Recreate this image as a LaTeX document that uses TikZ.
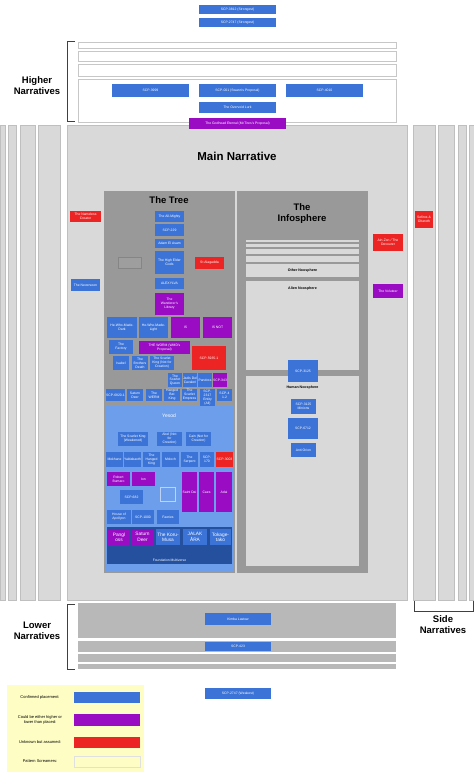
\documentclass[tikz,border=0pt]{standalone}
\usepackage{fontspec}
\setmainfont{Liberation Sans}
\usepackage{xcolor}
\definecolor{confblue}{HTML}{3B73D6}
\definecolor{eitherpurple}{HTML}{9A0CC4}
\definecolor{assumedred}{HTML}{EC2424}
\definecolor{paleyellow}{HTML}{FDFDC4}
\definecolor{yesodblue}{HTML}{6D9EEB}
\definecolor{multiblue}{HTML}{24509E}
\newcommand{\corA}{confblue}
\newcommand{\corB}{eitherpurple}
\newcommand{\corC}{assumedred}
\newcommand{\corD}{paleyellow}
\newcommand{\corE}{black!15}
\newcommand{\corF}{black!40}
\newcommand{\corG}{black!28}
\newcommand{\corH}{yesodblue}
\newcommand{\corI}{multiblue}
\newcommand{\bx}[7]{\node[#1, minimum width={(#5-#3)*1pt}, minimum height={(#6-#4)*1pt}] (#2) at ({(#3+#5)/2},{(#4+#6)/2}) {#7};}
\tikzset{
  box/.style={inner sep=0pt, outer sep=0pt, align=center, text=white, font=\fontsize{3.4}{3.9}\selectfont},
  conf/.style={box, fill=\corA},
  either/.style={box, fill=\corB},
  assumed/.style={box, fill=\corC},
  band/.style={inner sep=0pt, outer sep=0pt, fill=\corE, draw=black!25, line width=0.6pt},
  hollow/.style={inner sep=0pt, outer sep=0pt, fill=white, draw=black!22, line width=0.7pt},
  lowband/.style={inner sep=0pt, outer sep=0pt, fill=\corG},
  heading/.style={align=center, font=\bfseries\fontsize{9.5}{11}\selectfont},
  subhead/.style={align=center, font=\bfseries\fontsize{3.6}{4}\selectfont},
  bracket/.style={draw=black!75, line width=0.8pt},
  legtext/.style={align=center, font=\fontsize{4}{4.6}\selectfont}
}
\begin{document}
\begin{tikzpicture}[x=1pt, y=-1pt]
  \useasboundingbox[fill=white] (0,0) rectangle (474,782);

  % strongest
  \bx{conf}{strongA}{199}{5}{276}{14}{SCP-3812 (Strongest)}
  \bx{conf}{strongB}{199}{18}{276}{27}{SCP-2747 (Strongest)}

  % higher narratives
  \bx{hollow}{hrowA}{78}{42}{396}{48}{}
  \bx{hollow}{hrowB}{78}{51}{396}{61}{}
  \bx{hollow}{hrowC}{78}{64}{396}{76}{}
  \bx{hollow}{hrowD}{78}{79}{396}{122}{}
  \bx{conf}{scpA}{112}{84}{189}{97}{SCP-3999}
  \bx{conf}{scpB}{199}{84}{276}{97}{SCP-001 (Swann's Proposal)}
  \bx{conf}{scpC}{286}{84}{363}{97}{SCP-4010}
  \bx{conf}{lurk}{199}{102}{276}{113}{The Overvoid Lurk}
  \draw[bracket] (75,41) -- (67,41) -- (67,121) -- (75,121);
  \node[heading] (higher) at (37,86) {Higher\\Narratives};

  % side columns
  \foreach \xa/\xb in {0/5, 8/16, 20/35, 38/60, 413/435, 438/454, 458/466, 469/476}
    \draw[band] (\xa,125) rectangle (\xb,600);

  % main narrative
  \bx{band}{mainbox}{67}{125}{407}{600}{}
  \bx{either}{godhead}{189}{118}{286}{129}{The Godhead Eternal (McTires's Proposal)}
  \node[heading, font=\bfseries\fontsize{11.5}{13}\selectfont] (maintitle) at (237,156) {Main Narrative};
  \bx{assumed}{nameless}{70}{211}{101}{222}{The Nameless\\Creator}
  \bx{conf}{neverseen}{71}{279}{100}{291}{The Neverseen}
  \bx{assumed}{ainzon}{373}{234}{403}{251}{Ain-Zon / The\\Devourer}
  \bx{either}{volu}{373}{284}{403}{298}{The Voluteer}
  \bx{assumed}{sefiros}{415}{211}{433}{228}{Sefiros \&\\Oltaroth}

  % the tree
  \bx{box, fill=\corF}{tree}{104}{191}{235}{573}{}
  \node[heading] (treetitle) at (169,200) {The Tree};
  \bx{conf}{allmighty}{155}{211}{184}{222}{The All-Mighty}
  \bx{conf}{scp229}{155}{224}{184}{236}{SCP-229}
  \bx{conf}{adam}{155}{239}{184}{248}{Adam El Asam}
  \bx{conf}{elder}{155}{251}{184}{274}{The High Elder\\Gods}
  \bx{box, fill=black!38, draw=black!48, line width=0.6pt}{blank}{118}{257}{141}{268}{}
  \bx{assumed}{alagadda}{195}{257}{224}{269}{St Alagadda}
  \bx{conf}{alexylva}{155}{278}{184}{289}{ALEXYLVA}
  \bx{either}{library}{155}{293}{184}{315}{The\\Wanderer's\\Library}
  \bx{conf}{dark}{107}{317}{137}{338}{He-Who-Made-\\Dark}
  \bx{conf}{light}{139}{317}{168}{338}{He-Who-Made-\\Light}
  \bx{either}{is}{171}{317}{200}{338}{IS}
  \bx{either}{isnot}{203}{317}{232}{338}{IS NOT}
  \bx{conf}{factory}{109}{340}{133}{354}{The\\Factory}
  \bx{either}{worm}{139}{341}{190}{354}{THE WORM (WMD's\\Proposal)}
  \bx{assumed}{scp5935}{192}{346}{226}{370}{SCP-5935-1}
  \bx{conf}{isabel}{113}{356}{129}{370}{Isabel}
  \bx{conf}{brothers}{132}{356}{148}{370}{The\\Brothers\\Death}
  \bx{conf}{scarletA}{150}{356}{174}{370}{The Scarlet\\King (Not for\\Creation)}
  \bx{conf}{smallA}{168}{373}{182}{387}{The\\Scarlet\\Queen}
  \bx{conf}{smallB}{183}{373}{197}{387}{Jadis Del\\Cavaleri}
  \bx{conf}{smallC}{198}{373}{212}{387}{Pandora}
  \bx{either}{smallD}{213}{373}{227}{387}{SCP-343}
  \bx{conf}{rowA}{106}{389}{125}{401}{SCP-6820-1}
  \bx{conf}{rowB}{127}{389}{143}{401}{Saturn\\Deer}
  \bx{conf}{rowC}{146}{389}{162}{401}{The\\WERM}
  \bx{conf}{rowD}{164}{389}{180}{401}{Hanged\\Bat\\King}
  \bx{conf}{rowE}{182}{389}{197}{401}{The\\Scarlet\\Empress}
  \bx{conf}{rowF}{200}{389}{215}{407}{SCP-\\2317\\Entity\\(All)}
  \bx{conf}{rowG}{217}{389}{232}{401}{SCP-4\\1-2}

  % yesod
  \bx{box, fill=\corH}{yesod}{105}{406}{233}{571}{}
  \node[box, font=\fontsize{5}{6}\selectfont] (yesodtitle) at (169,416) {Yesod};
  \bx{conf}{scarletB}{118}{432}{148}{446}{The Scarlet King\\(Weakened)}
  \bx{conf}{abel}{157}{432}{182}{446}{Abel (Not\\for\\Creation)}
  \bx{conf}{cain}{186}{432}{211}{446}{Cain (Not for\\Creation)}
  \bx{conf}{mekhane}{106}{452}{123}{467}{Mekhane}
  \bx{conf}{yalda}{124}{452}{141}{467}{Yaldabaoth}
  \bx{conf}{hanged}{143}{452}{160}{467}{The\\Hanged\\King}
  \bx{conf}{moloch}{162}{452}{179}{467}{Moloch}
  \bx{conf}{serpent}{181}{452}{198}{467}{The\\Serpent}
  \bx{conf}{scp170}{200}{452}{214}{467}{SCP-\\170}
  \bx{assumed}{scpred}{216}{452}{233}{467}{SCP-3003}
  \bx{either}{bumaro}{107}{472}{130}{486}{Robert\\Bumaro}
  \bx{either}{ion}{132}{472}{155}{486}{Ion}
  \bx{either}{tallA}{182}{472}{197}{512}{Saint Dai}
  \bx{either}{tallB}{199}{472}{214}{512}{Caes}
  \bx{either}{tallC}{216}{472}{232}{512}{Adai}
  \bx{conf}{scp682}{120}{490}{143}{504}{SCP-682}
  \bx{box, draw=white!55!\corH, line width=0.5pt}{blankB}{160}{487}{175}{501}{}
  \bx{conf}{apollyon}{107}{510}{131}{524}{House of\\Apollyon}
  \bx{conf}{scp1000}{132}{510}{154}{524}{SCP-1000}
  \bx{conf}{faeries}{157}{510}{179}{524}{Faeries}

  % foundation multiverse
  \bx{box, fill=\corI}{multiverse}{107}{527}{232}{564}{}
  \node[box] (multititle) at (169.5,560) {Foundation Multiverse};
  \bx{either, font=\fontsize{4.8}{5.4}\selectfont}{pangloss}{108}{529}{130}{545}{Pangl\\oss}
  \bx{either, font=\fontsize{4.8}{5.4}\selectfont}{saturn}{132}{529}{153}{545}{Saturn\\Deer}
  \bx{conf, font=\fontsize{4.8}{5.4}\selectfont}{koru}{156}{529}{180}{545}{The Koru-\\Musa}
  \bx{conf, font=\fontsize{4.8}{5.4}\selectfont}{jalak}{183}{529}{207}{545}{JALAK\\ÅRA}
  \bx{conf, font=\fontsize{4.8}{5.4}\selectfont}{tokage}{210}{529}{231}{545}{Tokage-\\tako}

  % the infosphere
  \bx{box, fill=\corF}{info}{237}{191}{368}{573}{}
  \node[heading] (infotitle) at (302,214) {The\\Infosphere};
  \foreach \ya/\yb in {240/242, 244/247, 249/254, 256/262}
    \fill[\corE] (246,\ya) rectangle (359,\yb);
  \bx{box, fill=\corE}{othernoo}{246}{264}{359}{277}{}
  \node[subhead] at (othernoo) {Other Noosphere};
  \bx{box, fill=\corE}{aliennoo}{246}{281}{359}{370}{}
  \node[subhead] at (302.5,289) {Alien Noosphere};
  \bx{box, fill=\corE}{humannoo}{246}{376}{359}{566}{}
  \node[subhead] at (302.5,388) {Human Noosphere};
  \bx{conf}{scp3125}{288}{360}{318}{382}{SCP-3125}
  \bx{conf}{minions}{291}{399}{316}{414}{SCP-3125\\Minions}
  \bx{conf}{scp6712}{288}{418}{318}{439}{SCP-6712}
  \bx{conf}{orion}{291}{443}{316}{457}{Anti Orion}

  % lower narratives
  \bx{lowband}{lrowA}{78}{603}{396}{638}{}
  \bx{lowband}{lrowB}{78}{641}{396}{652}{}
  \bx{lowband}{lrowC}{78}{654}{396}{662}{}
  \bx{lowband}{lrowD}{78}{664}{396}{669}{}
  \bx{conf}{kimba}{205}{613}{271}{625}{Kimba Lastow}
  \bx{conf}{scp423}{205}{642}{271}{651}{SCP-423}
  \draw[bracket] (75,604) -- (67,604) -- (67,669) -- (75,669);
  \node[heading] (lower) at (37,631) {Lower\\Narratives};
  \draw[bracket] (414,601) -- (414,611) -- (473,611) -- (473,601);
  \node[heading] (side) at (443,625) {Side\\Narratives};

  % weakest
  \bx{conf}{weakest}{205}{688}{271}{699}{SCP-2747 (Weakest)}

  % legend
  \fill[\corD] (7,685) rectangle (144,772);
  \bx{box, fill=\corA}{legA}{74}{692}{140}{703}{}
  \bx{box, fill=\corB}{legB}{74}{714}{140}{726}{}
  \bx{box, fill=\corC}{legC}{74}{737}{140}{748}{}
  \bx{box, fill=\corD, draw=black!12, line width=0.5pt}{legD}{74}{756}{140}{767}{}
  \node[legtext] at (40,697.5) {Confirmed placement:};
  \node[legtext] at (40,720) {Could be either higher or\\lower than placed:};
  \node[legtext] at (40,742.5) {Unknown but assumed:};
  \node[legtext] at (40,761.5) {Pattern Screamers:};
\end{tikzpicture}
\end{document}
